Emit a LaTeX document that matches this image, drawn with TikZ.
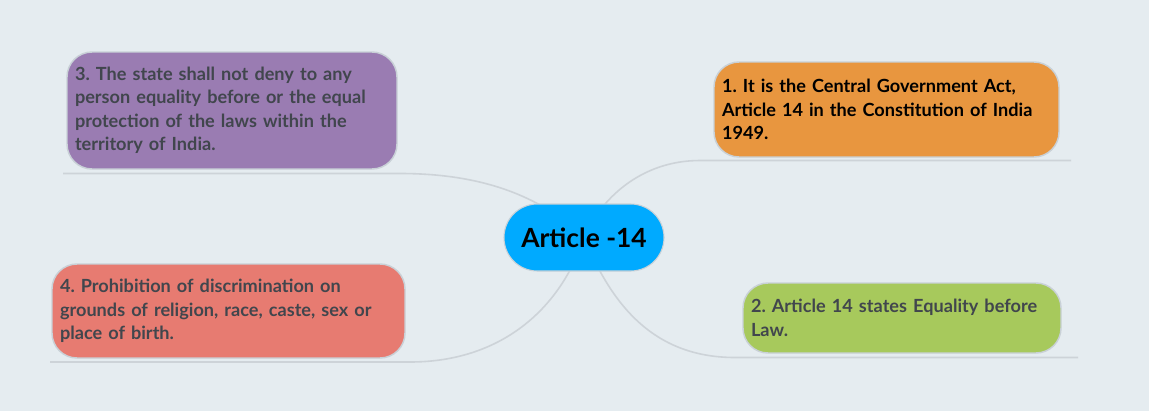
\documentclass[tikz,border=0pt]{standalone}
\usepackage{fontspec}
\setmainfont{Lato}
\usepackage{xcolor}
\usetikzlibrary{positioning}
\definecolor{bgcol}{HTML}{E5ECF0}
\definecolor{hubcol}{HTML}{00AAFF}
\definecolor{orangecol}{HTML}{E8963F}
\definecolor{greencol}{HTML}{A7C95C}
\definecolor{purplecol}{HTML}{9A7CB2}
\definecolor{redcol}{HTML}{E77B71}
\definecolor{txtgray}{HTML}{41464D}
\definecolor{linecol}{HTML}{CDD3D8}
\definecolor{rimcol}{HTML}{C9D1D7}
\frenchspacing
\tikzset{
	main node/.style={rectangle,rounded corners=25pt,draw=rimcol,line width=0.8pt,fill=hubcol,
		minimum width=120pt,minimum height=50.25pt,font=\bfseries\fontsize{19.8}{22}\selectfont},
	topic/.style={rectangle,rounded corners=18.75pt,draw=rimcol,line width=1.1pt,align=left,
		inner xsep=6pt,text=txtgray,font=\bfseries\fontsize{13.6}{17.6}\selectfont},
	branch/.style={draw=linecol,line width=1.2pt}
}
\begin{document}
\begin{tikzpicture}[x=0.75pt,y=-0.75pt]
	\fill[bgcol] (0,0) rectangle (1149,411);
	\coordinate (hub) at (584,237.5);
	\coordinate (1a) at (700,160.5);
	\coordinate (1b) at (1071,160.5);
	\coordinate (2a) at (735,357.5);
	\coordinate (2b) at (1078,357.5);
	\coordinate (3a) at (400,173.5);
	\coordinate (3b) at (63,173.5);
	\coordinate (4a) at (410,362);
	\coordinate (4b) at (50,362);
	% branches
	\draw[branch] (hub) .. controls (600,200) and (640,160.5) .. (1a) -- (1b);
	\draw[branch] (hub) .. controls (610,300) and (650,357.5) .. (2a) -- (2b);
	\draw[branch] (hub) .. controls (540,195) and (480,173.5) .. (3a) -- (3b);
	\draw[branch] (hub) .. controls (560,310) and (500,362) .. (4a) -- (4b);
	% topics
	\node[topic,fill=orangecol,text=black,minimum width=258.75pt,minimum height=71.25pt,text width=246.75pt] (1) at (886.5,109.5)
		{1. It is the Central Government Act,\\Article 14 in the Constitution of India\\1949.};
	\node[topic,fill=greencol,minimum width=238.5pt,minimum height=52.5pt,text width=226.5pt] (2) at (902,318)
		{2. Article 14 states Equality before\\Law.};
	\node[topic,fill=purplecol,minimum width=247.5pt,minimum height=87.75pt,text width=235.5pt] (3) at (232,110.5)
		{3. The state shall not deny to any\\person equality before or the equal\\protection of the laws within the\\territory of India.};
	\node[topic,fill=redcol,minimum width=264.75pt,minimum height=70.5pt,text width=252.75pt] (4) at (228.5,311)
		{4. Prohibition of discrimination on\\grounds of religion, race, caste, sex or\\place of birth.};
	\node[main node] (0) at (hub) {Article -14};
\end{tikzpicture}
\end{document}
